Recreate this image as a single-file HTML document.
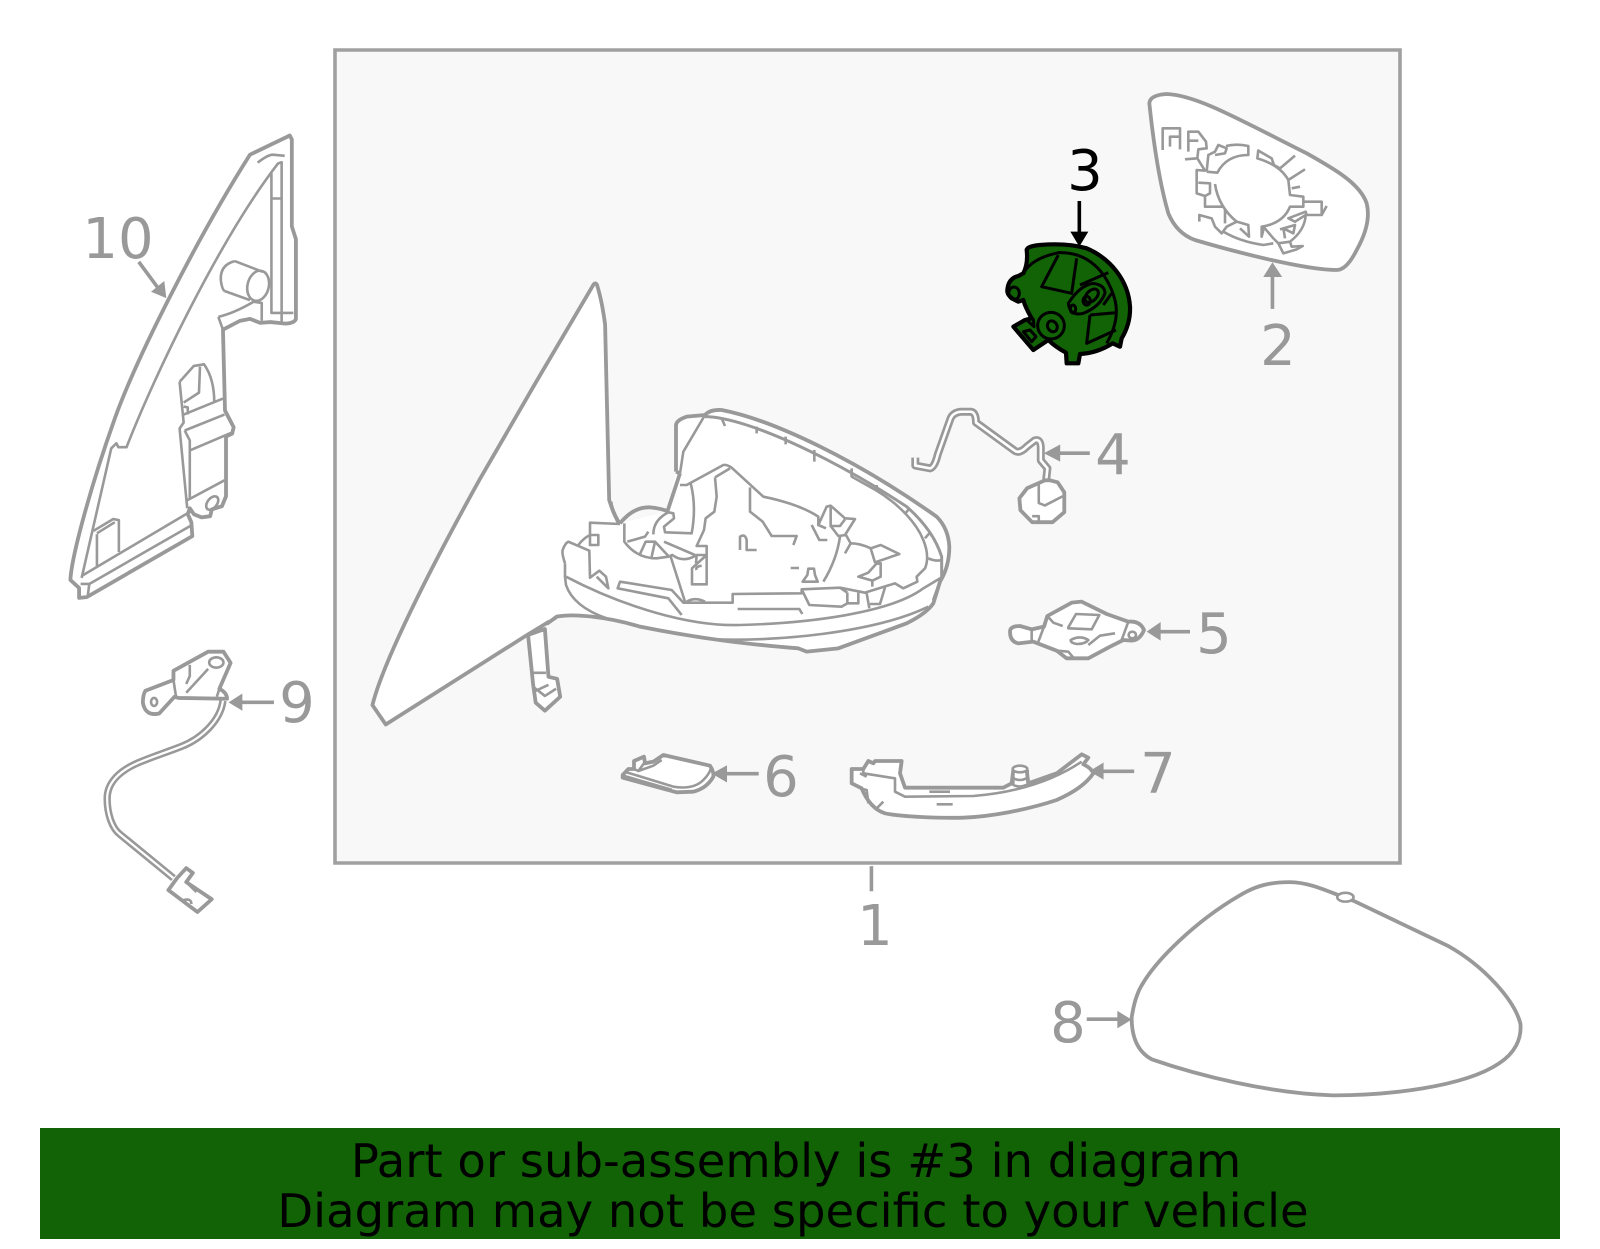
<!DOCTYPE html>
<html><head><meta charset="utf-8">
<style>
html,body{margin:0;padding:0;background:#fff}
svg{display:block}
svg *{vector-effect:non-scaling-stroke}
.t,.n,.w,.m{stroke:#999;stroke-linejoin:round;stroke-linecap:butt}
.t{fill:none;stroke-width:3.8}
.n{fill:none;stroke-width:2.6}
.m{fill:none;stroke-width:3}
.w{fill:#fff;stroke-width:3.8}
.a{fill:#999;stroke:none}
.l{stroke:#999;stroke-width:3.6;fill:none}
.d{font-family:"DejaVu Sans",sans-serif;font-size:56px;fill:#999;text-anchor:middle}
.b{font-family:"DejaVu Sans",sans-serif;font-size:46.5px;fill:#000;text-anchor:middle}
.k{fill:none;stroke:#000;stroke-width:3;stroke-linejoin:round}
</style></head><body>
<svg width="1600" height="1249" viewBox="0 0 1600 1249" xmlns="http://www.w3.org/2000/svg">
<rect width="1600" height="1249" fill="#fff"/>
<rect x="335" y="50" width="1065" height="813" fill="#f8f8f8" stroke="#a0a0a0" stroke-width="3.6"/>
<rect x="40" y="1128" width="1520" height="111" fill="#116306"/>
<text class="b" x="796" y="1177">Part or sub-assembly is #3 in diagram</text>
<text class="b" x="793" y="1227">Diagram may not be specific to your vehicle</text>

<!-- part 10 -->
<g transform="scale(.5102,.3986)">
<path class="w" d="M155,1500 L155,1475 L138,1455 C140,1400 175,1230 225,1050 C270,890 390,590 490,388 L568,340 L572,350 L572,568 L580,600 L580,800 Q578,810 560,812 L530,808 L510,810 L490,800 L470,805 L437,827 L441,1030 L458,1072 L455,1088 L443,1095 L443,1245 L435,1270 L415,1278 L412,1295 L395,1298 L380,1290 L372,1275 L368,1290 L375,1310 L377,1345 L170,1498 Z"/>
<path class="n" d="M160,1450 L218,1125 L228,1112 L232,1122 L248,1122 C300,950 430,600 545,410 L552,407 L552,808"/>
<path class="n" d="M532,435 L532,785 L575,785 M532,498 L552,498 M505,408 Q525,388 535,388 L558,391"/>
<path class="n" d="M460,655 L515,682 M440,730 L490,753 M460,655 Q430,665 433,705 Q435,725 440,730"/>
<ellipse class="n" cx="506" cy="717" rx="21" ry="38" transform="rotate(8 506 717)"/>
<path class="n" d="M428,795 Q460,785 497,757 L513,760 L513,805 M428,795 L437,827"/>
<path class="n" d="M352,958 L380,918 L400,914 Q420,950 420,1010 M352,958 L360,1060 L352,1075 L367,1275 M392,920 L390,985 L360,1010 M360,1040 L437,1000 M362,1080 L440,1040 M362,1080 L372,1105 L372,1250 M372,1130 L455,1085 M367,1255 L440,1205 M360,1020 L368,1022 L368,1040"/>
<ellipse class="n" cx="416" cy="1262" rx="10" ry="18" transform="rotate(25 416 1262)"/>
<path class="n" d="M160,1445 L375,1282 M175,1465 L375,1318 M158,1465 L175,1465 L172,1495"/>
<path class="n" d="M183,1332 L222,1302 L233,1305 L233,1385 M190,1340 L190,1420 M190,1338 L225,1310"/>
<path class="l" d="M272,657 L313,728"/>
<path class="a" d="M326,748 L296,732 L322,705 Z"/>
</g>
<text class="d" x="118" y="258">10</text>

<!-- mirror glass -->
<g transform="scale(1.0204)">
<path class="w" d="M583,277 L525,375 L452,500 C420,560 375,650 365,691 L378,710 L517,622 L545,605 Q560,602 580,607 L640,560 L607,514 Q600,500 597,490 L593,318 Q590,295 583,277 Z" style="stroke:none"/>
<path class="t" d="M607,514 Q600,500 597,490 L593,318 Q590,295 585,279 Q583,276 581,280 L525,375 L470,470 C420,560 375,650 365,691 L378,710 L517,622 L545,605"/>
</g>
<!-- stem -->
<g transform="translate(0,625) scale(.5102,.3986)">
<path class="w" d="M1035,25 L1045,150 L1050,195 L1068,215 L1098,180 L1092,135 L1075,130 L1068,10 Z"/>
<path class="n" d="M1045,120 L1070,120 M1045,155 L1068,178 L1090,160 M1050,165 L1075,150"/>
</g>
<!-- housing -->
<g transform="translate(540,400) scale(.33333)">
<path d="M408,215 L408,75 Q410,60 440,50 L495,45 Q510,28 545,30 C700,60 950,180 1190,350 Q1225,385 1228,440 Q1228,500 1200,545 L1180,610 Q1160,640 1100,670 L895,745 L800,755 L775,745 C650,735 500,720 300,680 C200,650 100,640 50,650 L20,672 L60,590 L68,450 L150,368 L240,370 L382,335 Z" fill="#fff"/>
<path class="t" d="M240,372 Q215,335 212,305 M408,215 L408,75 Q410,60 440,50 L495,45 Q510,28 545,30 C700,60 950,180 1190,350 Q1225,385 1228,440 Q1228,500 1200,545 L1180,610 Q1160,640 1100,670 L895,745 L800,755 L775,745 C650,735 500,720 300,680 C200,650 100,640 50,650 L20,672"/>
<path class="t" d="M420,220 L382,335 M240,370 Q280,320 330,322 Q365,325 385,335 M408,215 L420,220"/>
<path class="n" d="M495,45 L430,155 L420,220"/>
<path class="m" d="M495,50 Q540,50 620,75 C760,120 950,220 1100,320 Q1180,390 1205,470 L1205,532 L1180,600"/>
<path class="n" d="M935,210 L935,230 L1010,272 C1080,315 1130,370 1150,420 Q1170,470 1155,505 L1130,530 L1132,545 L1090,565 L1065,550 L975,578 L900,563 L785,568 L785,580 L578,582 L578,608 L430,608 L395,570 L240,545 L233,565 L385,595 L425,645"/>
<path class="n" d="M545,55 L555,78 M650,80 L650,100 M737,110 L737,133 M823,150 L823,185 M935,205 L935,230 M1010,255 L1010,272 M1108,325 L1095,342 M1172,395 L1155,415 M1165,475 Q1185,485 1207,480"/>
<path class="n" d="M420,255 L440,255 L550,195 Q560,193 575,203 L670,290 C720,300 790,320 835,350 L835,375 L860,320 L872,317 L915,355 L945,357 L915,405"/>
<path class="n" d="M525,232 L570,205 M525,232 L530,290 L523,335 L497,355 L492,390 L470,438 L500,438 L500,553 L456,553 L456,505 L470,492 L500,465 L470,465 L468,490 M470,510 Q465,500 485,497"/>
<path class="n" d="M452,250 Q470,320 455,400 L375,397 L372,380 L402,355 L400,340 L385,337 Q340,360 340,403"/>
<path class="n" d="M630,262 L630,335 L668,365 L695,408 L770,408 L760,435 M600,450 L600,410 Q615,400 620,420 L620,450 L650,450"/>
<path class="n" d="M240,372 L150,368 L150,435 L175,435 L175,405 L150,405 M68,450 Q75,430 85,425 L148,452 L150,533 L178,512 L198,530 L205,565 L170,530 M115,435 Q130,415 150,405 M75,490 Q65,460 68,450 M75,490 L75,530 L78,555 Q100,620 200,655"/>
<path class="n" d="M78,530 C250,620 450,680 600,675 C800,670 1050,640 1150,565 L1205,532"/>
<path class="n" d="M253,370 L253,425 Q290,475 350,475 L385,470 L397,465 Q430,490 470,465 M262,425 L315,410 L325,395 M300,462 L317,425 L345,425 L385,468 M335,470 L345,425 M372,425 L465,465 M392,470 L435,605 M440,605 Q465,590 495,605"/>
<path class="n" d="M593,627 L778,627 L787,642 M752,504 L777,504 M788,545 L802,525 L805,506 L822,506 L825,525 L833,545 Z M850,545 Q890,480 900,410 M815,375 L838,420 L862,420 M835,375 L858,385 M872,320 L872,378 L900,378 L915,358 M872,378 L895,408 L918,405 L932,430 L915,460 M932,430 Q960,430 992,445 L1022,435 L1078,462 L1005,487 L992,445 M1005,492 L1022,490 L1022,530 L997,542 L955,530 L985,518 L1010,490 M997,542 L997,560"/>
<path class="n" d="M785,568 L808,615 L905,620 L922,610 L922,578 M922,610 L955,610 L955,578 M922,578 L900,563 M980,580 L988,625 M1035,562 L1020,612 L990,612"/>
<path class="n" d="M525,718 C700,725 1000,700 1165,620"/>
</g>

<!-- part 3 -->
<g transform="translate(990,130) scale(.33333)">
<path d="M110,360 Q112,348 150,345 Q230,338 290,355 C360,385 415,450 420,530 Q422,580 395,625 L390,650 L368,640 Q320,670 270,672 L265,700 L230,700 L228,668 Q195,650 175,630 L130,660 L70,590 L105,570 L125,565 Q105,530 100,510 L85,515 Q50,500 52,480 Q55,445 85,438 L100,430 Q115,400 110,360 Z" fill="#116306" stroke="#000" stroke-width="4.2" stroke-linejoin="round"/>
<path class="k" d="M100,430 Q125,385 205,368 C290,365 350,420 375,510 Q390,570 350,640"/>
<path class="k" d="M205,375 L155,470 L245,490 L260,385 M270,465 L355,428 M300,555 L380,548 M300,555 L290,640 L378,600 M340,525 L365,490"/>
<path class="k" d="M235,520 Q270,465 310,460 Q345,465 345,490 Q330,530 280,550 Q240,560 235,520 Z"/>
<ellipse class="k" cx="305" cy="497" rx="24" ry="15" transform="rotate(-45 305 497)"/>
<ellipse class="k" cx="290" cy="512" rx="11" ry="13"/>
<ellipse class="k" cx="249" cy="537" rx="8" ry="12"/>
<circle class="k" cx="183" cy="587" r="40"/>
<ellipse class="k" cx="187" cy="589" rx="14" ry="17" transform="rotate(-30 187 589)"/>
<ellipse class="k" cx="72" cy="490" rx="16" ry="19"/>
<path class="k" d="M110,570 L132,590 L130,565 M100,605 L125,635 L138,620 L120,600 Z"/>
<path d="M268,213 L268,310" stroke="#000" stroke-width="3.6"/>
<path d="M241,305 L295,305 L268,350 Z" fill="#000"/>
</g>
<text class="d" x="1085" y="190" style="fill:#000">3</text>

<!-- part 2 -->
<g transform="translate(1140,90) scale(.33333)">
<path class="w" d="M28,40 Q30,15 80,12 C170,15 300,90 500,190 C580,235 660,280 680,340 Q695,400 650,480 Q620,540 590,540 C500,540 300,490 165,450 Q110,430 85,370 Q50,250 28,40 Z"/>
<path class="n" d="M68,180 L68,115 L120,115 L120,178 M90,170 L90,140 L120,140 M145,185 L145,125 L175,125 L198,155 L200,175 L175,178 L172,205 L135,208 M145,152 L175,152"/>
<path class="n" d="M172,205 L195,242 L170,240 L170,310 L195,318 L210,310 L210,280 L175,278 M195,318 L195,350 L250,350"/>
<path class="n" d="M200,245 L205,195 L225,185 L235,165 L260,175 L255,190 L225,195 M200,245 L232,248 Q260,195 325,195 L325,168 Q290,160 258,168"/>
<path class="n" d="M352,180 L395,205 L402,225 L420,235 L465,197 M355,180 L352,205 Q420,225 445,270 L450,315 L490,320 L490,350 L450,350 Q430,400 365,410 L365,440 L372,412 L400,445 L415,460 L430,490 L470,478 L488,468 L455,470 L450,455 L415,460 M445,270 L495,238 M455,295 L480,290 M490,335 L545,335 L545,375 L500,375 L497,365 L445,385 L465,395 L497,375 Q495,420 450,455 M545,375 L560,348"/>
<path class="n" d="M225,282 Q235,350 290,395 L260,410 L245,430 L225,410 L215,385 L178,375 L178,395 M255,355 L255,400 M290,395 L325,405 L327,440 L300,415 M250,425 Q300,455 370,465 L400,460 M420,418 L465,405 L460,430 L430,415 L435,445"/>
</g>
<g transform="translate(800,0) scale(.5102,.3986)">
<path class="l" d="M926,775 L926,690"/>
<path class="a" d="M926,658 L945,695 L908,695 Z"/>
<!-- part 4 -->
<path d="M226,1148 L226,1168 L255,1175 Q264,1172 270,1140 L295,1050 Q300,1035 315,1033 L335,1033 Q345,1035 345,1060 L420,1130 Q430,1140 445,1120 L460,1105 Q472,1100 472,1125 L472,1155 L485,1175 L482,1210" fill="none" stroke="#999" stroke-width="8" stroke-linejoin="round"/>
<path d="M226,1148 L226,1168 L255,1175 Q264,1172 270,1140 L295,1050 Q300,1035 315,1033 L335,1033 Q345,1035 345,1060 L420,1130 Q430,1140 445,1120 L460,1105 Q472,1100 472,1125 L472,1155 L485,1175 L482,1210" fill="none" stroke="#fff" stroke-width="2.6" stroke-linejoin="round"/>
<path class="w" d="M480,1205 L445,1225 L430,1250 L432,1280 L455,1310 L495,1310 L518,1285 L518,1235 L505,1210 L490,1205 Z"/>
<path class="n" d="M468,1210 L468,1262 L480,1268 L515,1245 M455,1295 L468,1295 L468,1310"/>
<path class="l" d="M568,1137 L505,1137"/>
<path class="a" d="M478,1137 L510,1115 L510,1158 Z"/>
</g>
<text class="d" x="1278" y="365">2</text>
<text class="d" x="1113" y="474">4</text>

<!-- part 5 -->
<g transform="translate(1000,590) scale(.33333)">
<path class="w" d="M30,125 Q30,108 60,108 L95,118 L132,110 L142,78 L215,38 L245,35 L320,72 L385,95 Q420,92 432,120 Q420,150 395,152 L370,150 L330,170 L265,205 L200,205 L170,182 L100,155 L55,160 Q30,155 30,125 Z"/>
<path class="n" d="M132,110 L115,155 M95,118 L95,155 M142,78 L160,98 L188,108 M205,112 L228,72 L298,75 L275,118 L205,115 Z M212,150 Q240,135 265,150 Q255,162 232,162 Q212,160 212,150 Z M265,165 L300,137 L345,130 M172,182 L205,185 L222,205 M385,95 L365,150"/>
<ellipse class="n" cx="397" cy="135" rx="11" ry="10"/>
<path class="l" d="M480,125 L570,125"/><path class="a" d="M440,125 L482,96 L482,152 Z"/>
</g>
<text class="d" x="1214" y="653">5</text>

<!-- part 6 -->
<g transform="translate(610,745) scale(.33333)">
<path class="w" d="M38,90 L55,72 L72,72 L72,48 L102,35 L105,55 L130,50 L160,30 L300,62 Q312,80 310,95 Q290,130 250,140 L200,142 L38,98 Z"/>
<path class="n" d="M72,72 L85,78 L130,62 L155,45 M50,82 L190,125 Q250,135 280,105 Q300,85 303,68 M85,78 L102,55"/>
<path class="m" d="M38,92 L185,135"/>
</g>
<g transform="translate(0,625) scale(.5102,.3986)">
<path class="l" d="M1487,373 L1420,373"/>
<path class="a" d="M1395,373 L1425,352 L1425,395 Z"/>
<!-- part 9 -->
<path class="w" d="M285,165 L340,138 L340,115 L408,67 L438,67 L452,95 L430,160 Q445,170 445,185 L350,183 L342,180 L312,222 Q285,230 280,195 Q280,175 285,165 Z"/>
<ellipse class="n" cx="424" cy="94" rx="14" ry="13"/>
<ellipse class="n" cx="302" cy="193" rx="6" ry="10"/>
<path class="n" d="M372,100 L372,128 L365,148 M408,110 L365,170 M340,138 L345,180 M430,160 L425,180"/>
<path d="M437,190 C432,240 395,285 355,305 C325,320 300,330 272,345 C235,365 210,395 210,435 C210,475 220,510 235,525 L340,635" fill="none" stroke="#999" stroke-width="7.4"/>
<path d="M437,190 C432,240 395,285 355,305 C325,320 300,330 272,345 C235,365 210,395 210,435 C210,475 220,510 235,525 L340,635" fill="none" stroke="#fff" stroke-width="2.2"/>
<path class="w" d="M330,665 L347,635 L365,610 L378,622 L365,645 L415,688 L387,720 Z"/>
<path class="n" d="M365,645 L385,670 M360,690 Q375,685 375,700"/>
<path class="l" d="M537,194 L470,194"/>
<path class="a" d="M448,194 L475,172 L475,215 Z"/>
</g>
<text class="d" x="781" y="796">6</text>
<text class="d" x="297" y="722">9</text>

<!-- part 7 -->
<g transform="translate(840,745) scale(.33333)">
<path class="w" d="M35,115 L35,72 L70,72 L85,48 L100,55 L105,48 L185,48 L180,85 L195,128 L490,128 L515,115 L520,75 L560,75 L565,115 L650,85 L725,28 L745,38 L730,58 Q755,70 760,85 Q730,130 650,165 C560,195 450,215 370,218 C300,220 180,215 135,205 Q90,190 65,130 Z"/>
<path class="n" d="M70,72 L70,85 L165,100 L165,140 L195,155 L400,153 C500,145 620,120 725,50 M60,85 L80,95 M60,130 L80,135 L85,175 M130,170 L105,195 M268,140 L330,140 M290,178 L338,178 M520,100 Q540,110 560,100"/>
<ellipse class="n" cx="540" cy="72" rx="22" ry="10" style="fill:#fff"/>
<path class="n" d="M520,75 L520,120 Q540,130 563,118 L563,75"/>
</g>
<g transform="translate(800,625) scale(.5102,.3986)">
<path class="l" d="M655,367 L590,367"/>
<path class="a" d="M567,367 L595,345 L595,388 Z"/>
<path class="l" d="M140,605 L140,668"/>
<!-- part 8 -->
<path class="w" d="M650,985 C655,945 660,930 665,915 C695,840 780,740 860,680 C895,652 925,645 960,645 C990,645 1020,660 1050,675 L1085,692 L1270,805 C1340,855 1400,940 1412,1000 C1415,1040 1400,1075 1370,1100 C1300,1160 1150,1180 1045,1180 C920,1175 780,1130 690,1090 C660,1070 650,1030 650,985 Z"/>
<ellipse class="n" cx="1069" cy="683" rx="16" ry="11" style="fill:#fff"/>
<path class="l" d="M562,989 L625,989"/>
<path class="a" d="M650,990 L622,968 L622,1012 Z"/>
</g>
<text class="d" x="1158" y="793">7</text>
<text class="d" x="875" y="945">1</text>
<text class="d" x="1068" y="1042">8</text>
</svg>
</body></html>
